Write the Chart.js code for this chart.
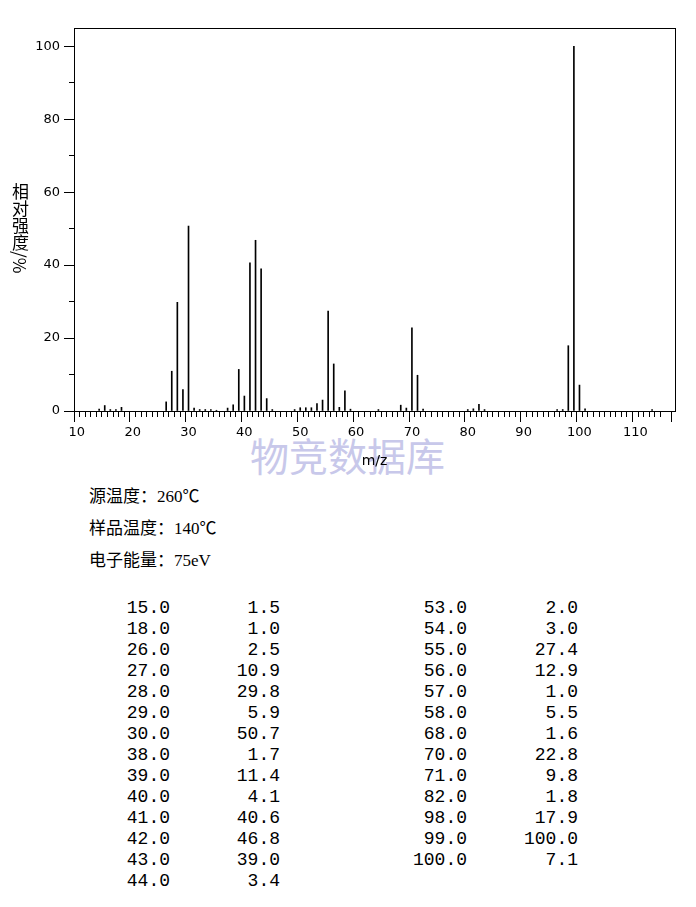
<!DOCTYPE html>
<html>
<head>
<meta charset="utf-8">
<script src="https://cdn.jsdelivr.net/npm/chart.js@4.4.1/dist/chart.umd.min.js"></script>
<style>
  body { margin: 0; background: #fff; width: 696px; height: 907px; position: relative; overflow: hidden; }
  #watermark { position: absolute; left: 250px; top: 426px; font: 39px "Noto Sans CJK SC"; color: #c8c8ea; white-space: nowrap; z-index: 0; }
  #chart { position: absolute; left: 0; top: 0; z-index: 1; }
  #ytitle { position: absolute; left: 11px; top: 183px; writing-mode: vertical-rl; font: 17px "Noto Sans CJK SC"; line-height: 18px; color: #000; z-index: 1; }
  .info { position: absolute; left: 89px; font: 17px "Liberation Serif", "Noto Sans CJK SC"; color: #000; line-height: 20px; }
  #peaks { position: absolute; left: 0; top: 598px; display: grid; grid-template-columns: 170px 110px 187px 111px; font: 18px "Liberation Mono", monospace; line-height: 21px; color: #000; }
  #peaks span { text-align: right; }
</style>
</head>
<body>
<div id="watermark">物竞数据库</div>
<canvas id="chart" width="696" height="480"></canvas>
<div id="ytitle">相对强度/%</div>
<div id="infoBox"></div>
<div id="peaks"></div>
<script>
  // listed peaks (m/z, relative intensity)
  const mz = [15, 18, 26, 27, 28, 29, 30, 38, 39, 40, 41, 42, 43, 44,
              53, 54, 55, 56, 57, 58, 68, 70, 71, 82, 98, 99, 100];
  const rel = [1.5, 1.0, 2.5, 10.9, 29.8, 5.9, 50.7, 1.7, 11.4, 4.1, 40.6, 46.8, 39.0, 3.4,
               2.0, 3.0, 27.4, 12.9, 1.0, 5.5, 1.6, 22.8, 9.8, 1.8, 17.9, 100.0, 7.1];

  // small peaks seen on the plot but not in the list
  const minorMz = [14, 16, 17, 31, 32, 33, 34, 35, 37, 45, 49, 50, 51, 52, 59, 64, 69, 72, 80, 81, 83, 96, 97, 101, 113];
  const minorRel = [0.5, 0.4, 0.4, 0.8, 0.4, 0.4, 0.4, 0.2, 0.8, 0.4, 0.4, 0.9, 0.9, 0.9, 0.5, 0.4, 0.8, 0.5, 0.4, 0.6, 0.4, 0.4, 0.4, 0.6, 0.4];

  const infoLines = ["源温度：260℃", "样品温度：140℃", "电子能量：75eV"];
  const infoTops = [487, 519, 551];

  infoLines.forEach((t, i) => {
    const d = document.createElement("div");
    d.className = "info";
    d.style.top = infoTops[i] + "px";
    d.textContent = t;
    document.getElementById("infoBox").appendChild(d);
  });

  // peak table, two columns of pairs
  const peaks = document.getElementById("peaks");
  const half = 14;
  for (let r = 0; r < half; r++) {
    const cells = [
      mz[r].toFixed(1), rel[r].toFixed(1),
      r + half < mz.length ? mz[r + half].toFixed(1) : "",
      r + half < mz.length ? rel[r + half].toFixed(1) : ""
    ];
    cells.forEach((c) => {
      const s = document.createElement("span");
      s.textContent = c;
      peaks.appendChild(s);
    });
  }

  const points = mz.map((m, i) => ({ x: m, y: rel[i] }))
    .concat(minorMz.map((m, i) => ({ x: m, y: minorRel[i] })));

  const tickFont = { family: "DejaVu Sans", size: 13 };

  function xTickDash(c) {
    if (!c.tick) return [];
    if (c.tick.value > 115) return [0, 100];
    return c.tick.value % 10 !== 0 ? [5, 100] : [];
  }

  new Chart(document.getElementById("chart"), {
    type: "bar",
    data: {
      datasets: [{
        data: points,
        backgroundColor: "#000",
        barThickness: 1,
      }],
    },
    options: {
      responsive: false,
      animation: false,
      layout: { padding: { left: 0, right: 21, top: 28, bottom: 10 } },
      plugins: { legend: { display: false }, tooltip: { enabled: false } },
      scales: {
        x: {
          type: "linear",
          position: "bottom",
          min: 10,
          max: 116.6,
          grid: {
            drawOnChartArea: false,
            tickLength: 11,
            tickColor: "#000",
            color: "#000",
            tickBorderDash: xTickDash,
          },
          border: { color: "#000", width: 1 },
          ticks: {
            stepSize: 1,
            autoSkip: false,
            includeBounds: false,
            maxRotation: 0,
            padding: 3,
            color: "#000",
            font: tickFont,
            callback: (v) => (v % 10 === 0 ? v : ""),
          },
          title: { display: true, text: "m/z", color: "#000", font: { family: "DejaVu Sans", size: 14 }, padding: 0 },
          afterFit: (s) => { s.height = 59; },
        },
        y: {
          position: "left",
          min: 0,
          max: 105,
          grid: {
            drawOnChartArea: false,
            tickLength: 10,
            tickColor: "#000",
            color: "#000",
            tickBorderDash: (c) => (c.tick && c.tick.value % 20 !== 0 ? [0, 5, 100] : []),
          },
          border: { color: "#000", width: 1 },
          ticks: {
            stepSize: 10,
            includeBounds: false,
            padding: 4,
            color: "#000",
            font: tickFont,
            callback: (v) => (v % 20 === 0 ? v : ""),
          },
          afterFit: (s) => { s.width = 74; },
        },
        xTop: {
          type: "linear",
          position: "top",
          grid: { display: false, drawTicks: false },
          ticks: { display: false },
          border: { color: "#000", width: 1 },
          afterFit: (s) => { s.height = 0; },
        },
        yRight: {
          position: "right",
          grid: { display: false, drawTicks: false },
          ticks: { display: false },
          border: { color: "#000", width: 1 },
          afterFit: (s) => { s.width = 0; },
        },
      },
    },
  });
</script>
</body>
</html>
